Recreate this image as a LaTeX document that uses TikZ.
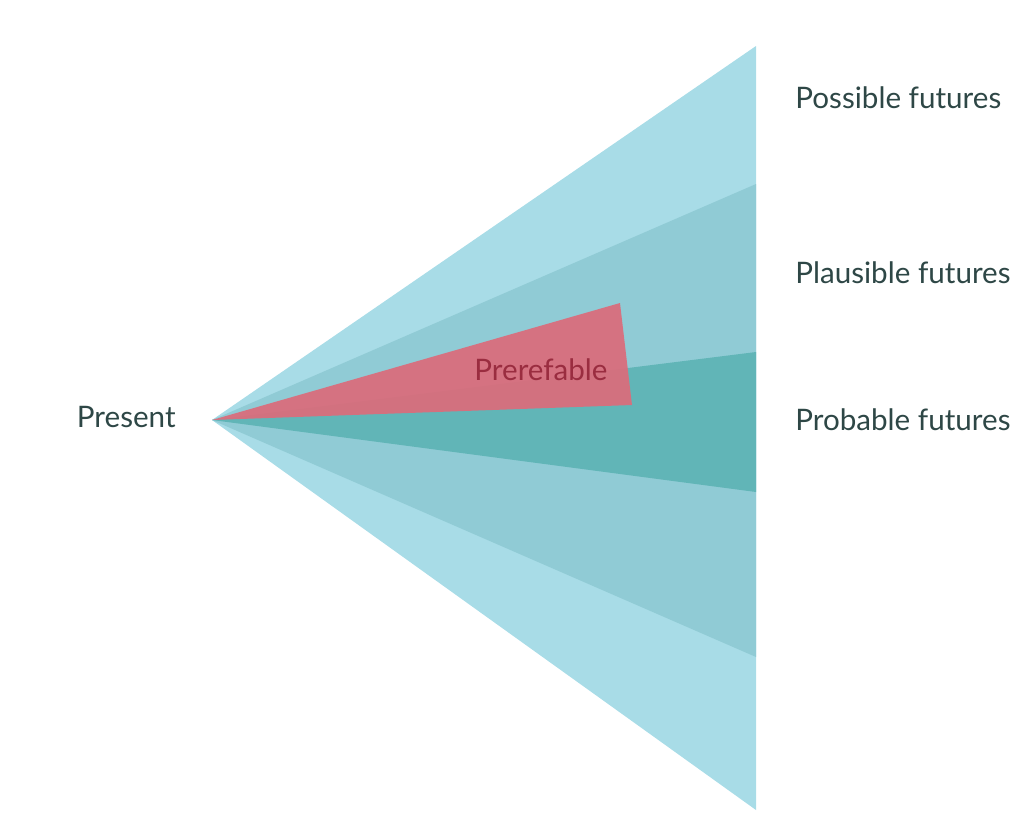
\documentclass[tikz,border=0pt]{standalone}
\usepackage{fontspec}
\setmainfont{Lato}
\usepackage{tikz}
\usetikzlibrary{positioning}
\definecolor{possiblecol}{HTML}{A8DCE7}
\definecolor{plausiblecol}{HTML}{90CBD5}
\definecolor{probablecol}{HTML}{61B5B7}
\definecolor{prefcol}{HTML}{D96E7D}
\definecolor{preftext}{HTML}{9A2D40}
\definecolor{labeltext}{HTML}{2E4746}

\begin{document}
\begin{tikzpicture}[
  x=0.5pt,y=-0.5pt,
  cone/.style={draw=none},
  lbl/.style={font=\fontsize{14.8}{17}\selectfont,text=labeltext,inner sep=0pt}
]
  \useasboundingbox (0,0) rectangle (1024,821);
  \coordinate (present) at (212,420);
  % cones, outer to inner
  \fill[cone,possiblecol] (present) -- (756,46) -- (756,810) -- cycle;
  \fill[cone,plausiblecol] (present) -- (756,184) -- (756,657) -- cycle;
  \fill[cone,probablecol] (present) -- (756,352) -- (756,492) -- cycle;
  \fill[cone,prefcol,opacity=0.95] (present) -- (620,303) -- (632,405) -- cycle;
  % labels
  \node[lbl,anchor=east] (presentlbl) at (176,417) {Present};
  \node[lbl,anchor=west] (possible) at (795,98) {Possible futures};
  \node[lbl,anchor=west] (plausible) at (795,273) {Plausible futures};
  \node[lbl,anchor=west] (probable) at (795,420) {Probable futures};
  \node[lbl,text=preftext] (preferable) at (541,370) {Prerefable};
\end{tikzpicture}
\end{document}
